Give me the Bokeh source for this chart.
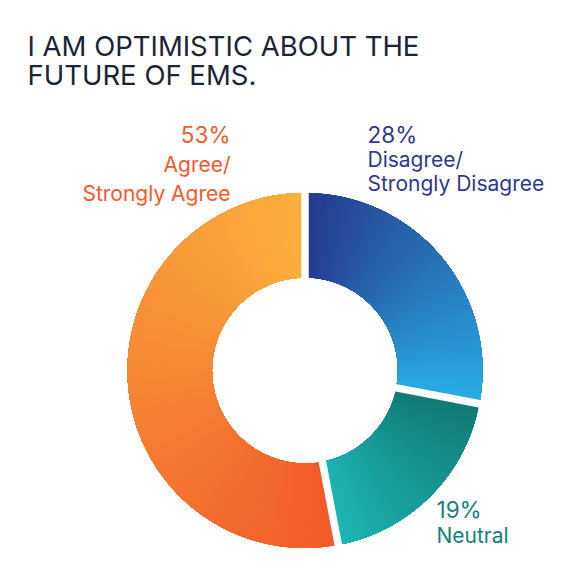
import math
import numpy as np
from bokeh.plotting import figure
from bokeh.models import Range1d, ColumnDataSource
from bokeh.embed import file_html
from bokeh.resources import INLINE
from bokeh.core.properties import value

# ---- data ----
title_lines = ["I AM OPTIMISTIC ABOUT THE", "FUTURE OF EMS."]
categories = ["Disagree/Strongly Disagree", "Neutral", "Agree/Strongly Agree"]
values = [28, 19, 53]
pct_labels = ["28%", "19%", "53%"]
label_lines = [["Disagree/", "Strongly Disagree"], ["Neutral"], ["Agree/", "Strongly Agree"]]
start_colors = ["#263A8D", "#117A74", "#F15A29"]
end_colors = ["#29ACE3", "#1CB6B4", "#FBB03D"]
text_colors = ["#2D3A8C", "#157F79", "#EE5B2C"]

# ---- layout helpers (page pixel -> data) ----
W = H = 563
TEXT_DY = -8  # baseline correction for text glyphs
def fx(px):
    return px
def fy(py):
    return H - py
def ty(py):
    return H - (py + TEXT_DY)

p = figure(width=W, height=H, x_range=Range1d(0, W), y_range=Range1d(0, H),
           output_backend="svg", toolbar_location=None, min_border=0)
p.axis.visible = False
p.grid.visible = False
p.outline_line_color = None
p.background_fill_color = "white"
p.border_fill_color = "white"

cx, cy = fx(304.5), fy(370)
R_out, R_in = 177.5, 93

def hex2rgb(h):
    h = h.lstrip("#")
    return tuple(int(h[i:i + 2], 16) for i in (0, 2, 4))

def mix(c0, c1, t):
    a, b = hex2rgb(c0), hex2rgb(c1)
    return "#%02x%02x%02x" % tuple(int(round(a[k] + (b[k] - a[k]) * t)) for k in range(3))

total = float(sum(values))
starts, ends, cols = [], [], []
bounds = []
cum = 0.0
step = 1.0
for v, c0, c1 in zip(values, start_colors, end_colors):
    a0 = cum / total * 360.0
    a1 = (cum + v) / total * 360.0
    bounds.append(a0)
    n = max(2, int(math.ceil((a1 - a0) / step)))
    edges = np.linspace(a0, a1, n + 1)
    for i in range(n):
        t = (i + 0.5) / n
        cols.append(mix(c0, c1, t))
        # each piece runs to the slice end; later pieces cover the rest (no seams)
        starts.append(math.radians(90 - a1))
        ends.append(math.radians(90 - edges[i]))
    cum += v

src = ColumnDataSource(dict(start=starts, end=ends, color=cols))
p.annular_wedge(x=cx, y=cy, inner_radius=R_in, outer_radius=R_out,
                start_angle="start", end_angle="end", direction="anticlock",
                fill_color="color", line_color=None, source=src)

# white separators at slice boundaries
x0s, y0s, x1s, y1s = [], [], [], []
for b in bounds:
    ang = math.radians(90 - b)
    x0s.append(cx + (R_in - 4) * math.cos(ang)); y0s.append(cy + (R_in - 4) * math.sin(ang))
    x1s.append(cx + (R_out + 4) * math.cos(ang)); y1s.append(cy + (R_out + 4) * math.sin(ang))
p.segment(x0=x0s, y0=y0s, x1=x1s, y1=y1s, line_color="white", line_width=7.5, line_cap="butt")

FONT = value("Inter")

# title
p.text(x=[fx(27)] * 2, y=[ty(53), ty(82)], text=title_lines, text_font=FONT,
       text_font_size="27.5px", text_color="#1B2434", text_align="left",
       text_baseline="alphabetic")

# labels: Disagree (right top), Neutral (bottom right), Agree (left top)
anchors = [(fx(367), "left", [142, 167, 191]),
           (fx(436), "left", [516.5, 543]),
           (fx(230), "right", [141.5, 171.5, 201])]
for (ax, align, ys), pct, lines, col in zip(anchors, pct_labels, label_lines, text_colors):
    p.text(x=[ax], y=[ty(ys[0])], text=[pct], text_font=FONT,
           text_font_size="22.5px", text_color=col, text_align=align,
           text_baseline="alphabetic")
    p.text(x=[ax] * len(lines), y=[ty(yy) for yy in ys[1:]], text=lines, text_font=FONT,
           text_font_size="21px", text_color=col, text_align=align,
           text_baseline="alphabetic")

open("out.html", "w").write(file_html(p, INLINE))
